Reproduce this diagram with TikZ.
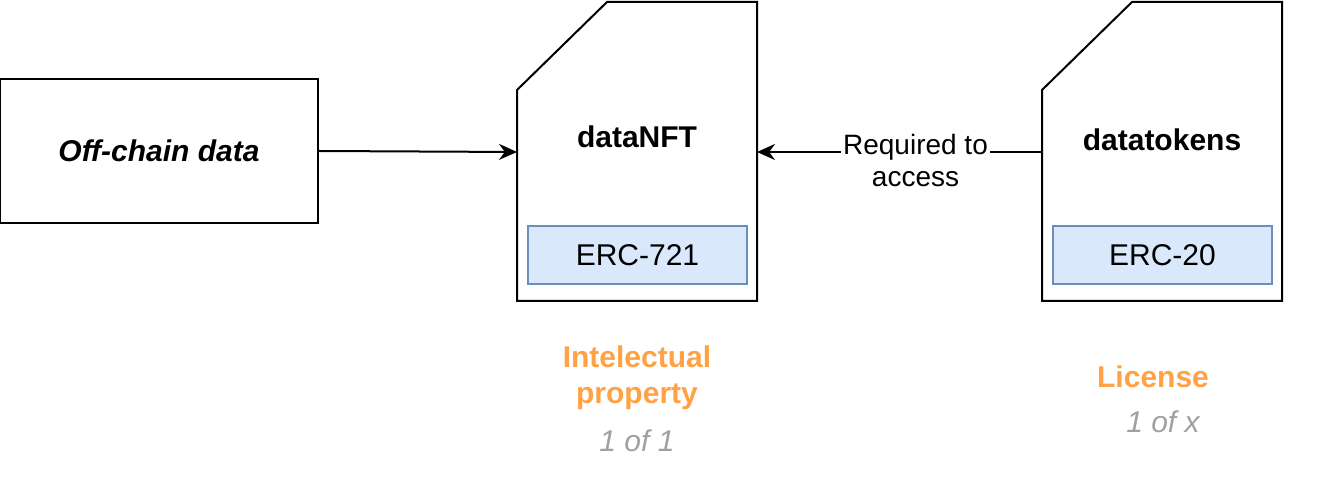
\documentclass[tikz,border=0pt]{standalone}
\usepackage{fontspec}
\setmainfont{Liberation Sans}
\usetikzlibrary{arrows.meta}
\begin{document}
\begin{tikzpicture}[x=0.5pt,y=-0.5pt,
  box/.style={draw=black,line width=1pt},
  erc/.style={draw={rgb,255:red,108;green,142;blue,191},fill={rgb,255:red,218;green,232;blue,252},line width=0.75pt,minimum width=109.5pt,minimum height=29pt,font=\fontsize{15}{18}\selectfont},
  arr/.style={line width=1pt,-{Stealth[length=9pt,width=8pt]}},
  orange/.style={text={rgb,255:red,255;green,162;blue,69},font=\bfseries\fontsize{15}{18}\selectfont,align=center},
  grey/.style={text={rgb,255:red,160;green,160;blue,160},font=\itshape\fontsize{15}{18}\selectfont}]
\useasboundingbox (0,0) rectangle (1323,501);
\node[box,minimum width=159pt,minimum height=72pt,font=\bfseries\itshape\fontsize{15}{18}\selectfont] (off) at (159,151) {Off-chain data};
\draw[box] (517,90) -- (607,2) -- (757,2) -- (757,301) -- (517,301) -- cycle;
\coordinate (nftL) at (517,152); \coordinate (nftR) at (757,152);
\node[font=\bfseries\fontsize{15}{18}\selectfont] (nft) at (637,137) {dataNFT};
\node[erc] (e721) at (637.5,255) {ERC-721};
\draw[box] (1042,90) -- (1132,2) -- (1282,2) -- (1282,301) -- (1042,301) -- cycle;
\coordinate (dtL) at (1042,152);
\node[font=\bfseries\fontsize{15}{18}\selectfont] (dt) at (1162,140) {datatokens};
\node[erc] (e20) at (1162.5,255) {ERC-20};
\draw[arr] (off.east) -- (nftL);
\draw[arr] (dtL) -- node[fill=white,inner sep=1pt,align=center,font=\fontsize{14}{16}\selectfont,xshift=8pt,yshift=-4pt] (lab) {Required to\\access} (nftR);
\node[orange] (ip) at (637,378) {Intelectual\\property};
\node[grey] (o1) at (637,441) {1 of 1};
\node[orange] (lic) at (1153,377) {License};
\node[grey] (ox) at (1163,422) {1 of x};
\end{tikzpicture}
\end{document}
